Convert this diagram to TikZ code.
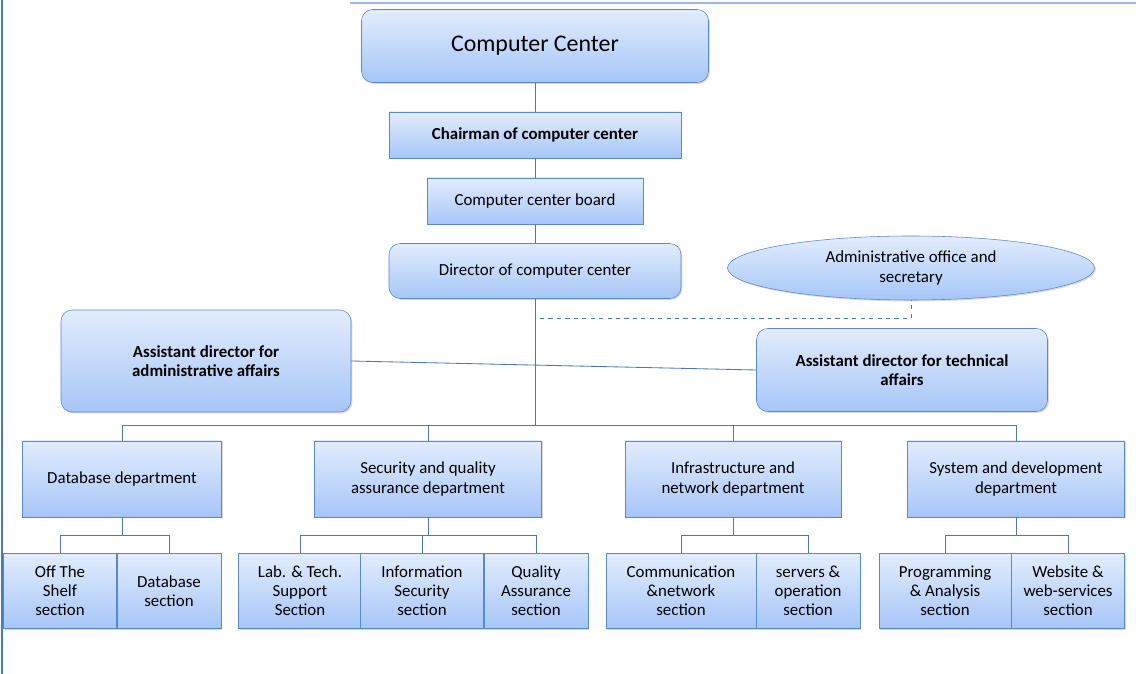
\documentclass[tikz,border=0pt]{standalone}
\usepackage{fontspec}
\setmainfont{Carlito}
\usetikzlibrary{shadows,shapes.geometric}
\definecolor{boxtop}{HTML}{E2ECFD}
\definecolor{boxbot}{HTML}{A6C6F7}
\definecolor{boxline}{HTML}{5A88CC}
\definecolor{wire}{HTML}{4A78BA}
\tikzset{
  box/.style={draw=boxline, top color=boxtop, bottom color=boxbot, align=center,
    inner sep=1pt, font=\fontsize{12}{14}\selectfont,
    drop shadow={shadow xshift=1pt, shadow yshift=-1pt, opacity=.3}},
  rbox/.style={box, rounded corners=8pt},
  wired/.style={draw=wire, line width=.6pt}
}
\begin{document}
\begin{tikzpicture}[x=0.025cm, y=-0.025cm]
\useasboundingbox (0,0) rectangle (1136,674);
\draw [wire, line width=1.2pt] (2,0) -- (2,674);
\draw [boxline!60, line width=1pt] (350,3) -- (1136,3);

% top of the chart
\node [rbox, minimum width=347*0.025cm, minimum height=73*0.025cm, font=\fontsize{17}{20}\selectfont] (cc) at (535,46) {Computer Center};
\node [box, minimum width=292*0.025cm, minimum height=46*0.025cm, font=\bfseries\fontsize{12}{14}\selectfont] (chair) at (535,135) {Chairman of computer center};
\node [box, minimum width=216*0.025cm, minimum height=46*0.025cm] (board) at (535,201) {Computer center board};
\node [rbox, minimum width=292*0.025cm, minimum height=55*0.025cm] (dir) at (535,271) {Director of computer center};
\node [box, ellipse, inner sep=0pt, minimum width=367*0.025cm, minimum height=64*0.025cm] (office) at (911,268) {Administrative office and\\secretary};

% assistants
\node [rbox, minimum width=290*0.025cm, minimum height=102*0.025cm, font=\bfseries\fontsize{12}{14}\selectfont] (admin) at (206,361) {Assistant director for\\administrative affairs};
\node [rbox, minimum width=291*0.025cm, minimum height=83*0.025cm, font=\bfseries\fontsize{12}{14}\selectfont] (tech) at (902,370) {Assistant director for technical\\affairs};

% departments
\tikzset{dept/.style={box, minimum height=76*0.025cm}}
\node [dept, minimum width=199*0.025cm] (db) at (122,479) {Database department};
\node [dept, minimum width=227*0.025cm] (sec) at (428,479) {Security and quality\\assurance department};
\node [dept, minimum width=216*0.025cm] (net) at (733,479) {Infrastructure and\\network department};
\node [dept, minimum width=217*0.025cm] (sys) at (1016,479) {System and development\\department};

% sections
\tikzset{sect/.style={box, minimum height=75*0.025cm, font=\fontsize{12}{13.5}\selectfont}}
\node [sect, minimum width=113*0.025cm] (shelf) at (60,591) {Off The\\Shelf\\section};
\node [sect, minimum width=104*0.025cm] (dbs) at (169,591) {Database\\section};
\node [sect, minimum width=123*0.025cm] (lab) at (300,591) {Lab. \& Tech.\\Support\\Section};
\node [sect, minimum width=123*0.025cm] (info) at (422,591) {Information\\Security\\section};
\node [sect, minimum width=104*0.025cm] (qa) at (536,591) {Quality\\Assurance\\section};
\node [sect, minimum width=150*0.025cm] (comm) at (681,591) {Communication\\\&network\\section};
\node [sect, minimum width=104*0.025cm] (serv) at (808,591) {servers \&\\operation\\section};
\node [sect, minimum width=132*0.025cm] (prog) at (945,591) {Programming\\\& Analysis\\section};
\node [sect, minimum width=113*0.025cm] (web) at (1068,591) {Website \&\\web-services\\section};

% connectors
\coordinate (bus) at (535,425);
\coordinate (tap) at (540,318);
\draw [wired] (cc) -- (chair);
\draw [wired] (chair) -- (board);
\draw [wired] (board) -- (dir);
\draw [wired] (dir) -- (bus);
\draw [wired] (admin.east) -- (tech.west);
\draw [wired, dashed] (tap) -| (office.south);
\foreach \d in {db, sec, net, sys}
  \draw [wired] (bus) -| (\d.north);
\draw [wired] (db.south) -- ++(0,18) -| (shelf.north);
\draw [wired] (db.south) -- ++(0,18) -| (dbs.north);
\foreach \s in {lab, info, qa}
  \draw [wired] (sec.south) -- ++(0,18) -| (\s.north);
\draw [wired] (net.south) -- ++(0,18) -| (comm.north);
\draw [wired] (net.south) -- ++(0,18) -| (serv.north);
\draw [wired] (sys.south) -- ++(0,18) -| (prog.north);
\draw [wired] (sys.south) -- ++(0,18) -| (web.north);
\end{tikzpicture}
\end{document}
